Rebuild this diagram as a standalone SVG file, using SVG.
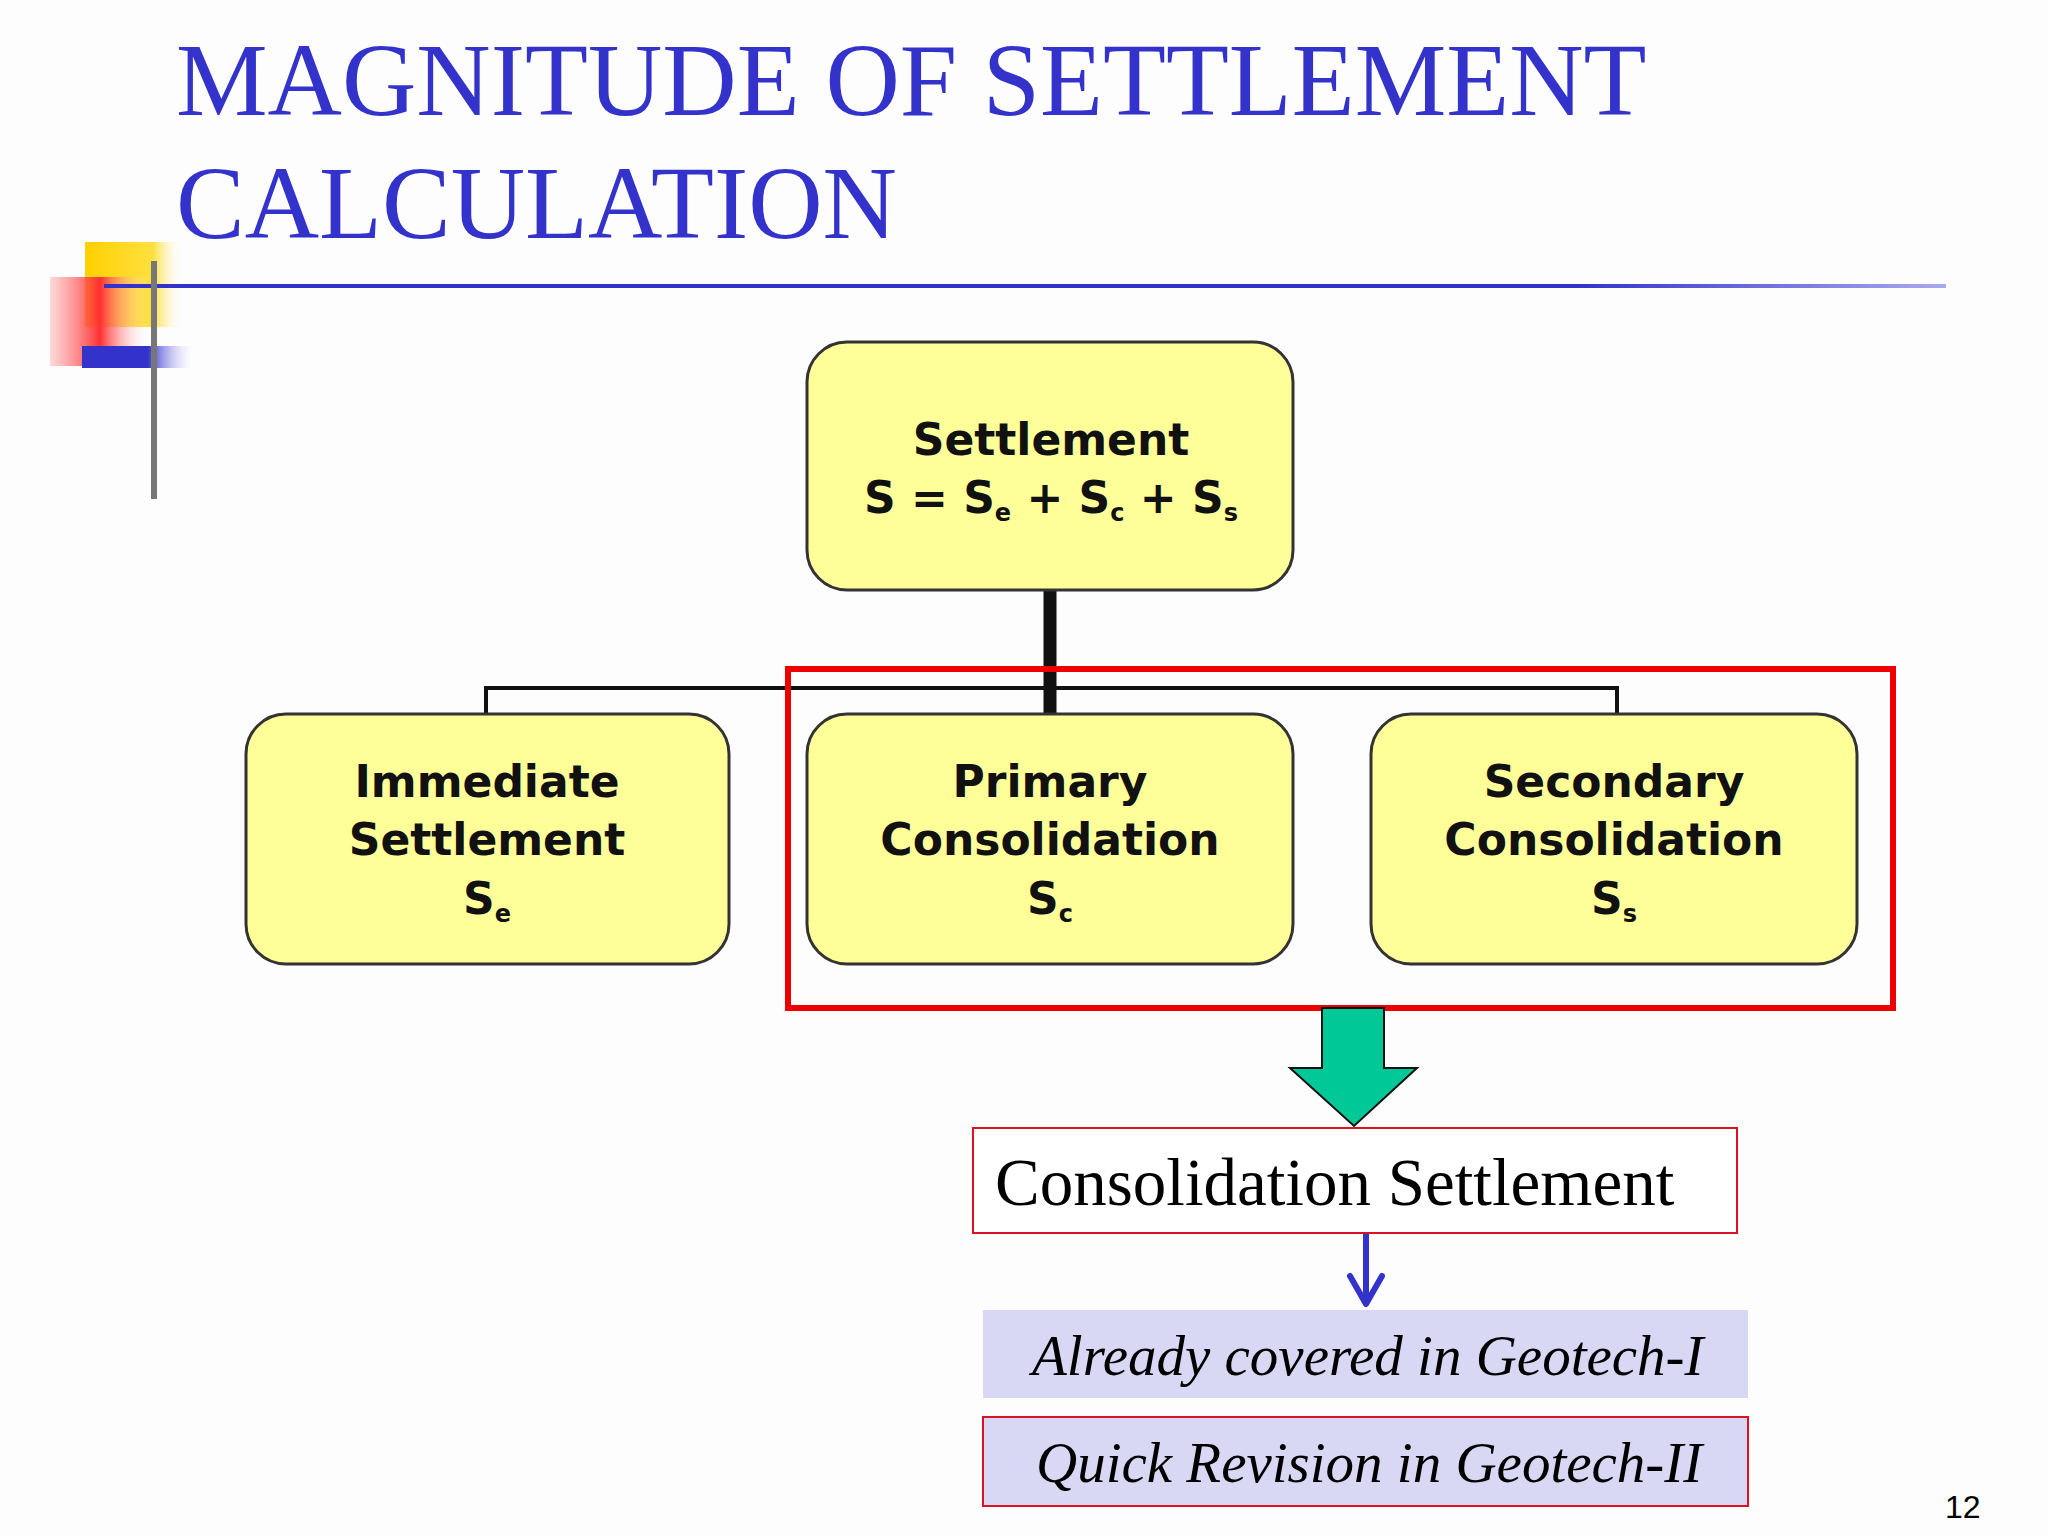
<svg xmlns="http://www.w3.org/2000/svg" width="2048" height="1536" viewBox="0 0 2048 1536">
<defs>
<linearGradient id="rg" x1="0" y1="0" x2="1" y2="0"><stop offset="0" stop-color="#ff8080" stop-opacity="0.3"/><stop offset="0.5" stop-color="#ff3030"/><stop offset="1" stop-color="#ffffff" stop-opacity="0"/></linearGradient>
<linearGradient id="yg" x1="0" y1="0" x2="1" y2="0"><stop offset="0" stop-color="#ffd000"/><stop offset="0.7" stop-color="#ffe040"/><stop offset="1" stop-color="#fff" stop-opacity="0"/></linearGradient>
<linearGradient id="bg" x1="0" y1="0" x2="1" y2="0"><stop offset="0" stop-color="#3333cc"/><stop offset="0.6" stop-color="#3333cc"/><stop offset="1" stop-color="#ccccff" stop-opacity="0"/></linearGradient>
<linearGradient id="lg" x1="0" y1="0" x2="1" y2="0"><stop offset="0" stop-color="#3333cc"/><stop offset="0.8" stop-color="#3333cc"/><stop offset="1" stop-color="#aaaaee"/></linearGradient>
</defs>
<style>
.node{fill:#ffff99;stroke:#333;stroke-width:3}
.nt{font-family:"DejaVu Sans",sans-serif;font-weight:bold;font-size:44px;fill:#111;text-anchor:middle}
.sub{font-size:24px}
.conn{stroke:#111;fill:none}
</style>
<rect width="2048" height="1536" fill="#fdfdfe"/>
<g id="title" font-family="Liberation Serif,serif" font-size="103" fill="#3333cc">
<text x="176" y="115">MAGNITUDE OF SETTLEMENT</text>
<text x="176" y="238">CALCULATION</text>
</g>
<g id="decor">
<rect x="85" y="242" width="98" height="85" fill="url(#yg)"/>
<rect x="50" y="277" width="100" height="89" fill="url(#rg)"/>
<rect x="82" y="346" width="110" height="22" fill="url(#bg)"/>
<rect x="104" y="284" width="1842" height="4" fill="url(#lg)"/>
<rect x="151" y="261" width="6" height="238" fill="#777"/>
</g>
<g id="connectors">
<line class="conn" x1="1050" y1="590" x2="1050" y2="716" stroke-width="13"/>
<polyline class="conn" points="486,716 486,688 1617,688 1617,716" stroke-width="4"/>
</g>
<g id="n-settlement">
<rect class="node" x="807" y="342" width="486" height="248" rx="40"/>
<text class="nt" x="1051" y="455">Settlement</text>
<text class="nt" x="1051" y="513">S = S<tspan class="sub" dy="8">e</tspan><tspan dy="-8"> + S</tspan><tspan class="sub" dy="8">c</tspan><tspan dy="-8"> + S</tspan><tspan class="sub" dy="8">s</tspan></text>
</g>
<g id="n-immediate">
<rect class="node" x="246" y="714" width="483" height="250" rx="40"/>
<text class="nt" x="487" y="797">Immediate</text>
<text class="nt" x="487" y="855">Settlement</text>
<text class="nt" x="487" y="914">S<tspan class="sub" dy="8">e</tspan></text>
</g>
<g id="n-primary">
<rect class="node" x="807" y="714" width="486" height="250" rx="40"/>
<text class="nt" x="1050" y="797">Primary</text>
<text class="nt" x="1050" y="855">Consolidation</text>
<text class="nt" x="1050" y="914">S<tspan class="sub" dy="8">c</tspan></text>
</g>
<g id="n-secondary">
<rect class="node" x="1371" y="714" width="486" height="250" rx="40"/>
<text class="nt" x="1614" y="797">Secondary</text>
<text class="nt" x="1614" y="855">Consolidation</text>
<text class="nt" x="1614" y="914">S<tspan class="sub" dy="8">s</tspan></text>
</g>
<g id="highlight">
<rect x="788" y="669" width="1105" height="339" fill="none" stroke="#ee0000" stroke-width="6"/>
</g>
<g id="green-arrow">
<polygon points="1322,1008 1384,1008 1384,1068 1417,1068 1354,1126 1290,1068 1322,1068" fill="#00c896" stroke="#111" stroke-width="2"/>
</g>
<g id="n-consolidation">
<rect x="973" y="1128" width="764" height="105" fill="#fff" stroke="#dd1122" stroke-width="2"/>
<text x="995" y="1205" font-family="Liberation Serif,serif" font-size="67" fill="#000">Consolidation Settlement</text>
</g>
<g id="blue-arrow">
<line x1="1366" y1="1234" x2="1366" y2="1300" stroke="#3333cc" stroke-width="6"/>
<polyline points="1350,1276 1366,1304 1382,1276" fill="none" stroke="#3333cc" stroke-width="6" stroke-linejoin="round" stroke-linecap="round"/>
</g>
<g id="n-covered">
<rect x="983" y="1310" width="765" height="88" fill="#d8d8f4"/>
<text x="1032" y="1375" font-family="Liberation Serif,serif" font-style="italic" font-size="57" fill="#000">Already covered in Geotech-I</text>
</g>
<g id="n-revision">
<rect x="983" y="1417" width="765" height="89" fill="#d8d8f4" stroke="#dd1122" stroke-width="2"/>
<text x="1036" y="1482" font-family="Liberation Serif,serif" font-style="italic" font-size="57" fill="#000">Quick Revision in Geotech-II</text>
</g>
<text x="1945" y="1518" font-family="Liberation Sans,sans-serif" font-size="32" fill="#000">12</text>
</svg>
